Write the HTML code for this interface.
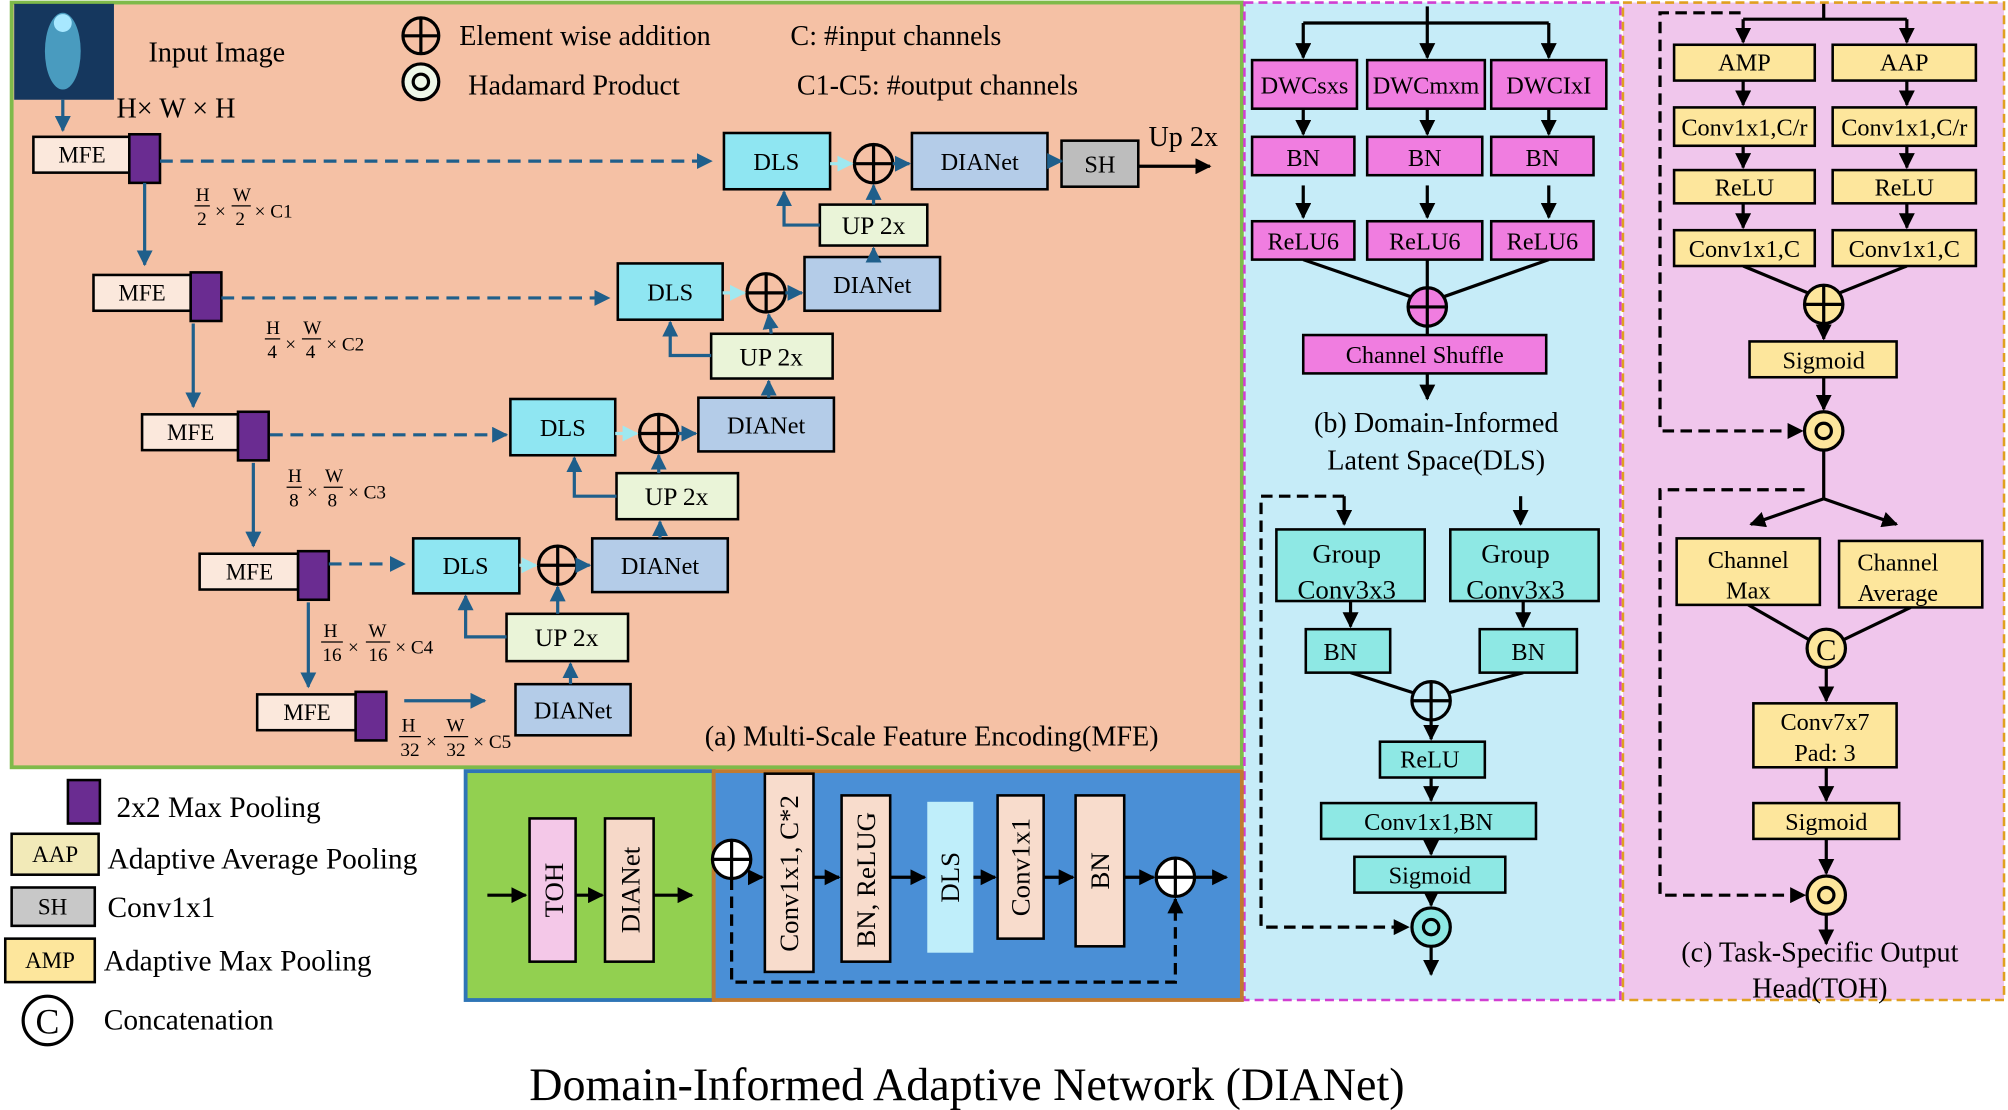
<!DOCTYPE html>
<html><head><meta charset="utf-8"><style>
html,body{margin:0;padding:0;background:#fff;}
svg{display:block;font-family:"Liberation Serif",serif;}
</style></head><body>
<svg width="2008" height="1110" viewBox="0 0 1568 868" xmlns="http://www.w3.org/2000/svg">
<defs>
<marker id="ab" viewBox="0 0 10 10" refX="9" refY="5" markerWidth="5" markerHeight="5" orient="auto"><path d="M0,0L10,5L0,10z" fill="#1f5f8b"/></marker>
<marker id="ak" viewBox="0 0 10 10" refX="9" refY="5" markerWidth="5" markerHeight="5" orient="auto"><path d="M0,0L10,5L0,10z" fill="#000"/></marker>
<marker id="ac" viewBox="0 0 10 10" refX="9" refY="5" markerWidth="5" markerHeight="5" orient="auto"><path d="M0,0L10,5L0,10z" fill="#9fe8f0"/></marker>
</defs>
<rect width="1568" height="868" fill="#fff"/>
<rect x="8" y="2" width="962" height="598" fill="#f5c1a5" stroke="#7fba4a" stroke-width="3"/>
<rect x="972" y="2" width="294" height="780" fill="#c6ecf8" stroke="#d13fd1" stroke-width="2" stroke-dasharray="7,4"/>
<rect x="1268" y="2" width="298" height="780" fill="#f0c6ec" stroke="#e0a020" stroke-width="2" stroke-dasharray="7,4"/>
<rect x="363" y="603" width="194" height="179" fill="#92d050" stroke="#2e75b6" stroke-width="3"/>
<rect x="557" y="603" width="413" height="179" fill="#4a8fd6" stroke="#c07a30" stroke-width="3"/>

<rect x="10" y="3" width="78" height="75" fill="#15375e"/>
<ellipse cx="48" cy="40" rx="14" ry="30" fill="#5fc6e8" opacity="0.7"/>
<circle cx="48" cy="18" r="7" fill="#a8e8ff"/>
<text x="115" y="48" font-size="22">Input Image</text>
<text x="90" y="92" font-size="22">H× W × H</text>
<line x1="48" y1="78" x2="48" y2="102" stroke="#1f5f8b" stroke-width="2.5" marker-end="url(#ab)"/>

<g stroke="#000" stroke-width="2.5" fill="none">
<circle cx="328" cy="28" r="14"/><line x1="314" y1="28" x2="342" y2="28"/><line x1="328" y1="14" x2="328" y2="42"/>
<circle cx="328" cy="64" r="14" fill="#eef8e8"/><circle cx="328" cy="64" r="6"/>
</g>
<g font-size="22">
<text x="358" y="35">Element wise addition</text>
<text x="365" y="74">Hadamard Product</text>
<text x="617" y="35">C: #input channels</text>
<text x="622" y="74">C1-C5: #output channels</text>
</g>

<g stroke="#000" stroke-width="2">
<rect x="25" y="107" width="75" height="28" fill="#fbe8dc"/><rect x="100" y="105" width="24" height="38" fill="#6a2c91"/>
<rect x="72" y="215" width="76" height="28" fill="#fbe8dc"/><rect x="148" y="213" width="24" height="38" fill="#6a2c91"/>
<rect x="110" y="324" width="75" height="28" fill="#fbe8dc"/><rect x="185" y="322" width="24" height="38" fill="#6a2c91"/>
<rect x="155" y="433" width="77" height="28" fill="#fbe8dc"/><rect x="232" y="431" width="24" height="38" fill="#6a2c91"/>
<rect x="200" y="543" width="77" height="28" fill="#fbe8dc"/><rect x="277" y="541" width="24" height="38" fill="#6a2c91"/>
</g>
<g font-size="18" text-anchor="middle">
<text x="63" y="127">MFE</text><text x="110" y="235">MFE</text><text x="148" y="344">MFE</text><text x="194" y="453">MFE</text><text x="239" y="563">MFE</text>
</g>
<g stroke="#1f5f8b" stroke-width="2.5" marker-end="url(#ab)">
<line x1="112" y1="143" x2="112" y2="207"/>
<line x1="150" y1="253" x2="150" y2="318"/>
<line x1="197" y1="362" x2="197" y2="427"/>
<line x1="240" y1="471" x2="240" y2="537"/>
<line x1="315" y1="548" x2="378" y2="548"/>
</g>
<g stroke="#1f5f8b" stroke-width="2.5" stroke-dasharray="10,6" marker-end="url(#ab)">
<line x1="124" y1="126" x2="555" y2="126"/>
<line x1="172" y1="233" x2="475" y2="233"/>
<line x1="210" y1="340" x2="395" y2="340"/>
<line x1="256" y1="441" x2="315" y2="441"/>
</g>
<g font-size="15">
<text x="152" y="157">H</text><line x1="151" y1="161" x2="163" y2="161" stroke="#000"/><text x="153" y="176">2</text>
<text x="167" y="170">×</text><text x="181" y="157">W</text><line x1="180" y1="161" x2="195" y2="161" stroke="#000"/><text x="183" y="176">2</text><text x="198" y="170">× C1</text>
<text x="207" y="261">H</text><line x1="206" y1="265" x2="218" y2="265" stroke="#000"/><text x="208" y="280">4</text>
<text x="222" y="274">×</text><text x="236" y="261">W</text><line x1="235" y1="265" x2="250" y2="265" stroke="#000"/><text x="238" y="280">4</text><text x="254" y="274">× C2</text>
<text x="224" y="377">H</text><line x1="223" y1="381" x2="235" y2="381" stroke="#000"/><text x="225" y="396">8</text>
<text x="239" y="390">×</text><text x="253" y="377">W</text><line x1="252" y1="381" x2="267" y2="381" stroke="#000"/><text x="255" y="396">8</text><text x="271" y="390">× C3</text>
<text x="252" y="498">H</text><line x1="250" y1="502" x2="267" y2="502" stroke="#000"/><text x="251" y="517">16</text>
<text x="271" y="511">×</text><text x="287" y="498">W</text><line x1="285" y1="502" x2="304" y2="502" stroke="#000"/><text x="287" y="517">16</text><text x="308" y="511">× C4</text>
<text x="313" y="572">H</text><line x1="311" y1="576" x2="328" y2="576" stroke="#000"/><text x="312" y="591">32</text>
<text x="332" y="585">×</text><text x="348" y="572">W</text><line x1="346" y1="576" x2="365" y2="576" stroke="#000"/><text x="348" y="591">32</text><text x="369" y="585">× C5</text>
</g>

<g stroke="#000" stroke-width="2">
<rect x="565" y="104" width="83" height="44" fill="#8fe6f2"/>
<rect x="482" y="206" width="82" height="44" fill="#8fe6f2"/>
<rect x="398" y="312" width="82" height="44" fill="#8fe6f2"/>
<rect x="322" y="421" width="83" height="43" fill="#8fe6f2"/>
<rect x="712" y="104" width="106" height="44" fill="#b4cce8"/>
<rect x="628" y="201" width="106" height="42" fill="#b4cce8"/>
<rect x="545" y="311" width="106" height="42" fill="#b4cce8"/>
<rect x="462" y="421" width="106" height="42" fill="#b4cce8"/>
<rect x="402" y="535" width="90" height="40" fill="#b4cce8"/>
<rect x="829" y="110" width="60" height="36" fill="#bdbdbd"/>
<rect x="640" y="160" width="84" height="32" fill="#eaf4d8"/>
<rect x="555" y="261" width="95" height="35" fill="#eaf4d8"/>
<rect x="481" y="370" width="95" height="36" fill="#eaf4d8"/>
<rect x="395" y="480" width="95" height="37" fill="#eaf4d8"/>
</g>
<g font-size="19" text-anchor="middle">
<text x="606" y="133">DLS</text><text x="523" y="235">DLS</text><text x="439" y="341">DLS</text><text x="363" y="449">DLS</text>
<text x="765" y="133">DIANet</text><text x="681" y="229">DIANet</text><text x="598" y="339">DIANet</text><text x="515" y="449">DIANet</text><text x="447" y="562">DIANet</text>
<text x="859" y="135">SH</text>
</g>
<g font-size="20" text-anchor="middle">
<text x="682" y="183">UP 2x</text><text x="602" y="286">UP 2x</text><text x="528" y="395">UP 2x</text><text x="442" y="505">UP 2x</text>
</g>
<text x="897" y="114" font-size="22">Up 2x</text>
<line x1="889" y1="130" x2="945" y2="130" stroke="#000" stroke-width="2.5" marker-end="url(#ak)"/>
<g stroke="#000" stroke-width="2.5" fill="none">
<circle cx="682" cy="128" r="15"/><line x1="667" y1="128" x2="697" y2="128"/><line x1="682" y1="113" x2="682" y2="143"/>
<circle cx="598" cy="229" r="15"/><line x1="583" y1="229" x2="613" y2="229"/><line x1="598" y1="214" x2="598" y2="244"/>
<circle cx="514" cy="339" r="15"/><line x1="499" y1="339" x2="529" y2="339"/><line x1="514" y1="324" x2="514" y2="354"/>
<circle cx="435" cy="442" r="15"/><line x1="420" y1="442" x2="450" y2="442"/><line x1="435" y1="427" x2="435" y2="457"/>
</g>
<g stroke="#9fe8f0" stroke-width="2.5" marker-end="url(#ac)">
<line x1="648" y1="128" x2="665" y2="128"/><line x1="564" y1="229" x2="581" y2="229"/><line x1="480" y1="339" x2="497" y2="339"/><line x1="405" y1="442" x2="418" y2="442"/>
</g>
<g stroke="#1f5f8b" stroke-width="2.5" fill="none" marker-end="url(#ab)">
<line x1="697" y1="128" x2="710" y2="128"/><line x1="613" y1="229" x2="626" y2="229"/><line x1="529" y1="339" x2="543" y2="339"/><line x1="450" y1="442" x2="460" y2="442"/>
<line x1="818" y1="126" x2="829" y2="126"/>
<line x1="682" y1="160" x2="682" y2="145"/><line x1="602" y1="261" x2="600" y2="246"/><line x1="514" y1="370" x2="514" y2="356"/><line x1="435" y1="480" x2="435" y2="459"/>
<line x1="682" y1="201" x2="682" y2="194"/><line x1="600" y1="311" x2="600" y2="298"/><line x1="515" y1="421" x2="515" y2="408"/><line x1="445" y1="535" x2="445" y2="519"/>
<polyline points="640,176 612,176 612,150"/><polyline points="555,278 523,278 523,252"/><polyline points="481,388 448,388 448,358"/><polyline points="395,498 363,498 363,466"/>
</g>
<text x="550" y="583" font-size="22">(a) Multi-Scale Feature Encoding(MFE)</text>

<g stroke="#000" stroke-width="2.5" fill="none">
<polyline points="1115,5 1115,18"/><line x1="1018" y1="18" x2="1210" y2="18"/>
</g>
<g stroke="#000" stroke-width="2.5" marker-end="url(#ak)">
<line x1="1018" y1="18" x2="1018" y2="45"/><line x1="1115" y1="18" x2="1115" y2="45"/><line x1="1210" y1="18" x2="1210" y2="45"/>
<line x1="1018" y1="85" x2="1018" y2="105"/><line x1="1115" y1="85" x2="1115" y2="105"/><line x1="1210" y1="85" x2="1210" y2="105"/>
<line x1="1018" y1="145" x2="1018" y2="170"/><line x1="1115" y1="145" x2="1115" y2="170"/><line x1="1210" y1="145" x2="1210" y2="170"/>
<line x1="1115" y1="292" x2="1115" y2="312"/>
<line x1="1050" y1="388" x2="1050" y2="410"/><line x1="1188" y1="388" x2="1188" y2="410"/>
<line x1="1055" y1="470" x2="1055" y2="490"/><line x1="1190" y1="470" x2="1190" y2="490"/>
<line x1="1118" y1="563" x2="1118" y2="578"/><line x1="1118" y1="608" x2="1118" y2="626"/><line x1="1118" y1="656" x2="1118" y2="668"/><line x1="1118" y1="698" x2="1118" y2="708"/><line x1="1118" y1="740" x2="1118" y2="762"/>
</g>
<g stroke="#000" stroke-width="2.5">
<line x1="1018" y1="203" x2="1102" y2="232"/><line x1="1115" y1="203" x2="1115" y2="225"/><line x1="1210" y1="203" x2="1128" y2="232"/>
<line x1="1115" y1="255" x2="1115" y2="262"/>
<line x1="1055" y1="526" x2="1105" y2="542"/><line x1="1190" y1="526" x2="1131" y2="542"/>
</g>
<g stroke="#000" stroke-width="2">
<rect x="978" y="47" width="82" height="38" fill="#f07de0"/><rect x="1068" y="47" width="92" height="38" fill="#f07de0"/><rect x="1165" y="47" width="90" height="38" fill="#f07de0"/>
<rect x="978" y="107" width="80" height="30" fill="#f07de0"/><rect x="1068" y="107" width="90" height="30" fill="#f07de0"/><rect x="1165" y="107" width="80" height="30" fill="#f07de0"/>
<rect x="978" y="173" width="80" height="30" fill="#f07de0"/><rect x="1068" y="173" width="90" height="30" fill="#f07de0"/><rect x="1165" y="173" width="80" height="30" fill="#f07de0"/>
<rect x="1018" y="262" width="190" height="30" fill="#f07de0"/>
<rect x="997" y="414" width="116" height="56" fill="#8ee8e4"/><rect x="1133" y="414" width="116" height="56" fill="#8ee8e4"/>
<rect x="1020" y="492" width="66" height="34" fill="#8ee8e4"/><rect x="1156" y="492" width="76" height="34" fill="#8ee8e4"/>
<rect x="1078" y="580" width="82" height="28" fill="#8ee8e4"/><rect x="1032" y="628" width="168" height="28" fill="#8ee8e4"/><rect x="1058" y="670" width="118" height="28" fill="#8ee8e4"/>
</g>
<g stroke="#000" stroke-width="2.5" fill="none">
<circle cx="1115" cy="240" r="15" fill="#f07de0"/><line x1="1100" y1="240" x2="1130" y2="240"/><line x1="1115" y1="225" x2="1115" y2="255"/>
<circle cx="1118" cy="548" r="15"/><line x1="1103" y1="548" x2="1133" y2="548"/><line x1="1118" y1="533" x2="1118" y2="563"/>
<circle cx="1118" cy="725" r="15" fill="#8ee8e4"/><circle cx="1118" cy="725" r="6"/>
<polyline points="1050,388 985,388 985,725 1100,725" stroke-dasharray="9,5" marker-end="url(#ak)"/>
</g>
<g font-size="19" text-anchor="middle">
<text x="1019" y="73">DWCsxs</text><text x="1114" y="73">DWCmxm</text><text x="1210" y="73">DWCIxI</text>
<text x="1018" y="130">BN</text><text x="1113" y="130">BN</text><text x="1205" y="130">BN</text>
<text x="1018" y="195">ReLU6</text><text x="1113" y="195">ReLU6</text><text x="1205" y="195">ReLU6</text>
<text x="1113" y="284">Channel Shuffle</text>
<text x="1122" y="338" font-size="22">(b) Domain-Informed</text><text x="1122" y="367" font-size="22">Latent Space(DLS)</text>
<text x="1052" y="440" font-size="21">Group</text><text x="1052" y="468" font-size="21">Conv3x3</text>
<text x="1184" y="440" font-size="21">Group</text><text x="1184" y="468" font-size="21">Conv3x3</text>
<text x="1047" y="516">BN</text><text x="1194" y="516">BN</text>
<text x="1117" y="600">ReLU</text><text x="1116" y="649">Conv1x1,BN</text><text x="1117" y="691">Sigmoid</text>
</g>

<g stroke="#000" stroke-width="2.5" fill="none">
<line x1="1425" y1="3" x2="1425" y2="15"/><line x1="1362" y1="15" x2="1490" y2="15"/>
<line x1="1362" y1="208" x2="1415" y2="230"/><line x1="1490" y1="208" x2="1435" y2="230"/>
<line x1="1425" y1="352" x2="1425" y2="390"/>
<line x1="1366" y1="473" x2="1413" y2="500"/><line x1="1493" y1="475" x2="1441" y2="500"/>
<polyline points="1360,10 1297,10 1297,337 1408,337" stroke-dasharray="9,5" marker-end="url(#ak)"/>
<polyline points="1410,383 1297,383 1297,700 1410,700" stroke-dasharray="9,5" marker-end="url(#ak)"/>
</g>
<g stroke="#000" stroke-width="2.5" marker-end="url(#ak)">
<line x1="1362" y1="15" x2="1362" y2="33"/><line x1="1490" y1="15" x2="1490" y2="33"/>
<line x1="1362" y1="63" x2="1362" y2="82"/><line x1="1490" y1="63" x2="1490" y2="82"/>
<line x1="1362" y1="114" x2="1362" y2="131"/><line x1="1490" y1="114" x2="1490" y2="131"/>
<line x1="1362" y1="159" x2="1362" y2="178"/><line x1="1490" y1="159" x2="1490" y2="178"/>
<line x1="1425" y1="253" x2="1425" y2="265"/><line x1="1425" y1="295" x2="1425" y2="320"/>
<line x1="1425" y1="390" x2="1368" y2="410"/><line x1="1425" y1="390" x2="1482" y2="410"/>
<line x1="1427" y1="522" x2="1427" y2="548"/><line x1="1427" y1="600" x2="1427" y2="626"/><line x1="1427" y1="656" x2="1427" y2="683"/><line x1="1427" y1="715" x2="1427" y2="738"/>
</g>
<g stroke="#000" stroke-width="2" fill="#fde69c">
<rect x="1308" y="35" width="110" height="28"/><rect x="1432" y="35" width="112" height="28"/>
<rect x="1308" y="84" width="110" height="30"/><rect x="1432" y="84" width="112" height="30"/>
<rect x="1308" y="133" width="110" height="26"/><rect x="1432" y="133" width="112" height="26"/>
<rect x="1308" y="180" width="110" height="28"/><rect x="1432" y="180" width="112" height="28"/>
<rect x="1367" y="267" width="115" height="28"/>
<rect x="1310" y="421" width="112" height="52"/><rect x="1437" y="423" width="112" height="52"/>
<rect x="1370" y="550" width="112" height="50"/><rect x="1370" y="628" width="114" height="28"/>
</g>
<g stroke="#000" stroke-width="2.5" fill="#fde69c">
<circle cx="1425" cy="238" r="15"/><line x1="1410" y1="238" x2="1440" y2="238"/><line x1="1425" y1="223" x2="1425" y2="253"/>
<circle cx="1425" cy="337" r="15"/><circle cx="1425" cy="337" r="6" fill="none"/>
<circle cx="1427" cy="507" r="15"/>
<circle cx="1427" cy="700" r="15"/><circle cx="1427" cy="700" r="6" fill="none"/>
</g>
<g font-size="19" text-anchor="middle">
<text x="1363" y="55">AMP</text><text x="1488" y="55">AAP</text>
<text x="1363" y="106">Conv1x1,C/r</text><text x="1488" y="106">Conv1x1,C/r</text>
<text x="1363" y="153">ReLU</text><text x="1488" y="153">ReLU</text>
<text x="1363" y="201">Conv1x1,C</text><text x="1488" y="201">Conv1x1,C</text>
<text x="1425" y="288">Sigmoid</text>
<text x="1366" y="444">Channel</text><text x="1366" y="468">Max</text>
<text x="1483" y="446">Channel</text><text x="1483" y="470">Average</text>
<text x="1427" y="516" font-size="24">C</text>
<text x="1426" y="571">Conv7x7</text><text x="1426" y="595">Pad: 3</text>
<text x="1427" y="649">Sigmoid</text>
<text x="1422" y="752" font-size="22">(c) Task-Specific Output</text><text x="1422" y="780" font-size="22">Head(TOH)</text>
</g>

<rect x="52" y="610" width="25" height="34" fill="#6a2c91" stroke="#000" stroke-width="2"/>
<text x="90" y="639" font-size="23">2x2 Max Pooling</text>
<rect x="8" y="652" width="68" height="32" fill="#f2eab8" stroke="#000" stroke-width="2"/><text x="42" y="674" font-size="18" text-anchor="middle">AAP</text>
<text x="83" y="679" font-size="23">Adaptive Average Pooling</text>
<rect x="8" y="694" width="65" height="30" fill="#c8c8c8" stroke="#000" stroke-width="2"/><text x="40" y="715" font-size="18" text-anchor="middle">SH</text>
<text x="83" y="717" font-size="23">Conv1x1</text>
<rect x="3" y="734" width="70" height="34" fill="#fde69c" stroke="#000" stroke-width="2"/><text x="38" y="757" font-size="18" text-anchor="middle">AMP</text>
<text x="80" y="759" font-size="23">Adaptive Max Pooling</text>
<circle cx="36" cy="798" r="19" fill="none" stroke="#000" stroke-width="2.5"/><text x="36" y="808" font-size="28" text-anchor="middle">C</text>
<text x="80" y="805" font-size="23">Concatenation</text>

<g stroke="#000" stroke-width="2.5" marker-end="url(#ak)">
<line x1="380" y1="700" x2="410" y2="700"/><line x1="449" y1="700" x2="470" y2="700"/><line x1="510" y1="700" x2="540" y2="700"/>
</g>
<rect x="413" y="640" width="36" height="112" fill="#f4c8e8" stroke="#000" stroke-width="2"/>
<rect x="472" y="640" width="38" height="112" fill="#f6d8c8" stroke="#000" stroke-width="2"/>
<text transform="translate(439,696) rotate(-90)" font-size="21" text-anchor="middle">TOH</text>
<text transform="translate(499,696) rotate(-90)" font-size="21" text-anchor="middle">DIANet</text>

<g stroke="#000" stroke-width="2.5" fill="none">
<circle cx="571" cy="672" r="15" fill="#fff"/><line x1="556" y1="672" x2="586" y2="672"/><line x1="571" y1="657" x2="571" y2="687"/>
<circle cx="918" cy="686" r="15" fill="#fff"/><line x1="903" y1="686" x2="933" y2="686"/><line x1="918" y1="671" x2="918" y2="701"/>
<polyline points="571,687 571,768 918,768 918,703" stroke-dasharray="9,5" marker-end="url(#ak)"/>
</g>
<g stroke="#000" stroke-width="2.5" marker-end="url(#ak)">
<line x1="586" y1="686" x2="595" y2="686"/><line x1="635" y1="686" x2="655" y2="686"/><line x1="695" y1="686" x2="722" y2="686"/>
<line x1="760" y1="686" x2="777" y2="686"/><line x1="815" y1="686" x2="838" y2="686"/><line x1="878" y1="686" x2="901" y2="686"/><line x1="933" y1="686" x2="958" y2="686"/>
</g>
<g stroke="#000" stroke-width="2" fill="#f8dccc">
<rect x="597" y="605" width="38" height="155"/><rect x="657" y="622" width="38" height="130"/>
<rect x="779" y="622" width="36" height="112"/><rect x="840" y="622" width="38" height="118"/>
</g>
<rect x="724" y="627" width="36" height="118" fill="#bfeefa"/>
<g font-size="21" text-anchor="middle">
<text transform="translate(623,683) rotate(-90)">Conv1x1, C*2</text>
<text transform="translate(683,688) rotate(-90)">BN, ReLUG</text>
<text transform="translate(749,686) rotate(-90)">DLS</text>
<text transform="translate(804,678) rotate(-90)">Conv1x1</text>
<text transform="translate(866,681) rotate(-90)">BN</text>
</g>

<text x="755" y="860" font-size="36" text-anchor="middle">Domain-Informed Adaptive Network (DIANet)</text>
</svg>
</body></html>
